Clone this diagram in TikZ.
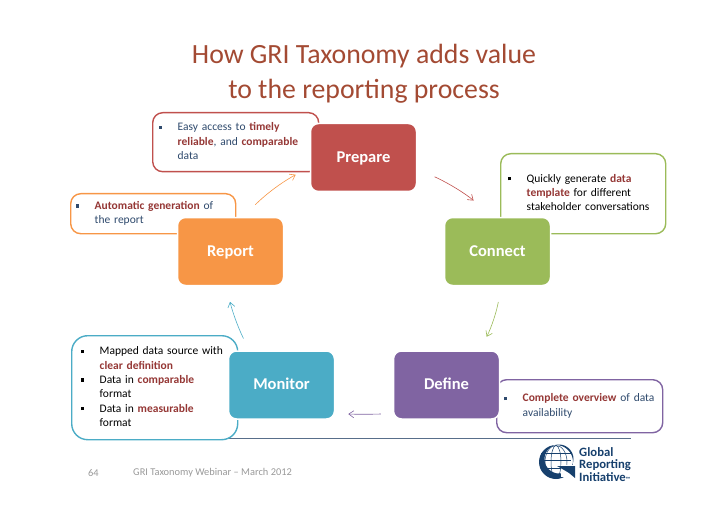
\documentclass[tikz,border=0pt]{standalone}
\usepackage{fontspec}
\usepackage{array}
\setmainfont{Carlito}
\usetikzlibrary{arrows.meta}
\definecolor{ink}{HTML}{2F4A6D}
\definecolor{hot}{HTML}{953735}
\definecolor{titlered}{HTML}{A34A33}
\definecolor{redbox}{HTML}{C0504D}
\definecolor{orangebox}{HTML}{F79646}
\definecolor{greenbox}{HTML}{9BBB59}
\definecolor{bluebox}{HTML}{4BACC6}
\definecolor{purplebox}{HTML}{8064A2}
\definecolor{grilogo}{HTML}{17406D}
\newcommand{\hot}[1]{\textcolor{hot}{\textbf{#1}}}
\newcommand{\bul}{\rule[1.8pt]{3.4pt}{3.4pt}}
\newenvironment{notelist}{\begin{tabular}{@{}p{19pt}@{}l@{}}}{\end{tabular}}
\tikzset{
  stagebox/.style={draw=white,line width=1.5pt,fill=#1,rounded corners=8pt,minimum width=106pt,minimum height=68pt,text=white,text height=12pt,text depth=2.5pt,font=\fontsize{16.5}{20}\selectfont\bfseries},
  callout/.style={draw=#1,line width=1.4pt,rounded corners=10pt,fill=white,align=left,anchor=north west,inner ysep=0pt,font=\fontsize{11.5}{14.3}\selectfont},
  flow/.style={-{Straight Barb[length=5pt,width=7pt]},line width=0.6pt,draw=#1},
  footer/.style={anchor=west,inner sep=0pt,text=black!40,font=\fontsize{10.4}{12}\selectfont},
}
\begin{document}
\begin{tikzpicture}[x=1pt,y=1pt]
  \useasboundingbox (0,0) rectangle (728,515);
  \node[font=\fontsize{27.8}{35}\selectfont,text=titlered,align=center] (title) at (364,441.5) {How GRI Taxonomy adds value\\to the reporting process};

  % rule under the process
  \coordinate (ruleleft) at (225,77);
  \coordinate (ruleright) at (631,77);
  \draw[ink!80,line width=1pt] (ruleleft) -- (ruleright);

  % callouts
  \node[callout=redbox,minimum height=59pt,inner xsep=6pt,text width=154pt,text=ink] (preparenote) at (152,403) {\begin{notelist}\bul & Easy access to \hot{timely}\\ & \hot{reliable}, and \hot{comparable}\\ & data\end{notelist}};
  \node[callout=orangebox,minimum height=40pt,inner xsep=5pt,text width=155pt,text=ink] (reportnote) at (70,322) {\begin{notelist}\bul & \hot{Automatic generation} of\\ & the report\end{notelist}};
  \node[callout=greenbox,minimum height=80pt,inner xsep=7pt,text width=151pt] (connectnote) at (500,362) {\begin{notelist}\bul & Quickly generate \hot{data}\\ & \hot{template} for different\\ & stakeholder conversations\end{notelist}};
  \node[callout=bluebox,minimum height=104pt,inner xsep=9pt,text width=148pt,rounded corners=16pt] (monitornote) at (71,180) {\begin{notelist}\bul & Mapped data source with\\ & \hot{clear definition}\\\bul & Data in \hot{comparable}\\ & format\\\bul & Data in \hot{measurable}\\ & format\end{notelist}};
  \node[callout=purplebox,minimum height=53pt,inner xsep=7pt,text width=152pt,text=ink] (definenote) at (496,136) {\begin{notelist}\bul & \hot{Complete overview} of data\\ & availability\end{notelist}};

  % the five stages
  \node[stagebox=redbox] (prepare) at (363.5,357.5) {Prepare};
  \node[stagebox=greenbox] (connect) at (497.5,263.5) {Connect};
  \node[stagebox=purplebox] (define) at (446.5,130) {Define};
  \node[stagebox=bluebox] (monitor) at (281.5,130) {Monitor};
  \node[stagebox=orangebox] (report) at (230.5,263.5) {Report};

  \draw[flow=redbox,shorten <=19pt,shorten >=25pt] (prepare.-12) to[bend left=8] (connect.98);
  \draw[flow=greenbox,shorten <=16pt,shorten >=15pt] (connect.-84) to[bend left=8] (define.46);
  \draw[flow=purplebox,shorten <=12pt,shorten >=13pt] (define.208) to[bend left=2] (monitor.-28);
  \draw[flow=bluebox,shorten <=13pt,shorten >=16pt] (monitor.133) to[bend left=6] (report.-97);
  \draw[flow=orangebox,shorten <=17pt,shorten >=16pt] (report.70) to[bend left=8] (prepare.190);

  % footer
  \node[footer] (pagenumber) at (88,42) {64};
  \node[footer] (webinar) at (133,42) {GRI Taxonomy Webinar -- March 2012};

  % logo
  \foreach \w in {5,11} \draw[grilogo,line width=0.5pt] (556,53) ellipse ({\w} and 16.5);
  \foreach \h in {-6,2,9} \draw[grilogo,line width=0.5pt] (541,53+\h) -- (571,53+\h);
  \fill[grilogo,even odd rule] (556,53) circle (17) (559,56) circle (14.5);
  \fill[white] (561,38) rectangle (576,50);
  \fill[grilogo] (557,49) -- (575,49) -- (575,37) -- (569,42) -- (564,45) -- cycle;
  \node[anchor=west,text=grilogo,align=left,inner sep=0pt,font=\fontsize{12.7}{12.5}\selectfont\bfseries] (gri) at (579,50.5) {Global\\Reporting\\Initiative{\fontsize{6}{6}\selectfont ™}};
\end{tikzpicture}
\end{document}
